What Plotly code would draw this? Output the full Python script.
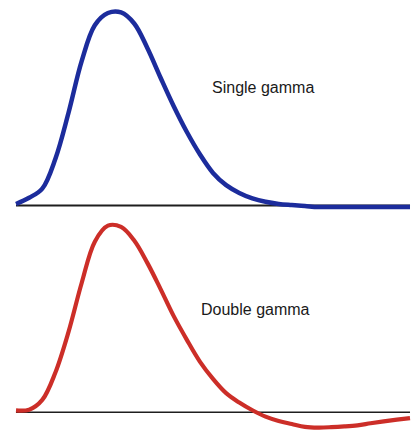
import plotly.graph_objects as go

# Data (time in s, response normalised to peak = 1)
t = list(range(0, 31))

y_single = [0.008, 0.040, 0.087, 0.241, 0.478, 0.744, 0.929, 0.992, 0.995, 0.938, 0.812,
            0.660, 0.513, 0.380, 0.264, 0.168, 0.105, 0.065, 0.037, 0.019, 0.008,
            0.002, -0.003, -0.008, -0.008, -0.008, -0.008, -0.008, -0.008, -0.008, -0.008]

y_double = [0.009, 0.013, 0.065, 0.211, 0.427, 0.687, 0.907, 0.992, 0.985, 0.913, 0.794,
            0.656, 0.512, 0.386, 0.269, 0.177, 0.101, 0.051, 0.010, -0.024, -0.047,
            -0.063, -0.078, -0.082, -0.080, -0.076, -0.070, -0.059, -0.049, -0.040, -0.032]

t_base = [0, 30]
y_base = [0, 0]

labels = ["Single gamma", "Double gamma"]

fig = go.Figure()

# baselines
fig.add_trace(go.Scatter(x=t_base, y=y_base, mode="lines",
                         line=dict(color="#1e1e1e", width=1.8), yaxis="y"))
fig.add_trace(go.Scatter(x=t_base, y=y_base, mode="lines",
                         line=dict(color="#1e1e1e", width=1.5), yaxis="y2"))

# curves
fig.add_trace(go.Scatter(x=t, y=y_single, mode="lines",
                         line=dict(color="#1c2c9c", width=4.5, shape="spline", smoothing=1),
                         yaxis="y"))
fig.add_trace(go.Scatter(x=t, y=y_double, mode="lines",
                         line=dict(color="#cc2e28", width=4.2, shape="spline", smoothing=1),
                         yaxis="y2"))

# the page body has an 8px margin, so positions are measured from there
fig.add_annotation(text=labels[0], x=(210 - 8) / 412, y=1 - (87 - 8) / 424,
                   xref="paper", yref="paper", xanchor="left", yanchor="middle",
                   showarrow=False, font=dict(size=16, color="#1a1a1a"))
fig.add_annotation(text=labels[1], x=(199 - 8) / 412, y=1 - (309 - 8) / 424,
                   xref="paper", yref="paper", xanchor="left", yanchor="middle",
                   showarrow=False, font=dict(size=16, color="#1a1a1a"))

# Layout
fig.update_layout(
    width=412,
    height=424,
    margin=dict(l=0, r=0, t=0, b=0),
    paper_bgcolor="white",
    plot_bgcolor="white",
    showlegend=False,
    font=dict(family="Liberation Sans, Arial, sans-serif"),
    xaxis=dict(range=[-0.609, 30.761], visible=False, fixedrange=True),
    yaxis=dict(range=[-1.1675, 1.0180], domain=[0, 1], visible=False, fixedrange=True),
    yaxis2=dict(range=[-0.1056, 2.1497], overlaying="y", visible=False, fixedrange=True),
)

fig.write_html("out.html")
